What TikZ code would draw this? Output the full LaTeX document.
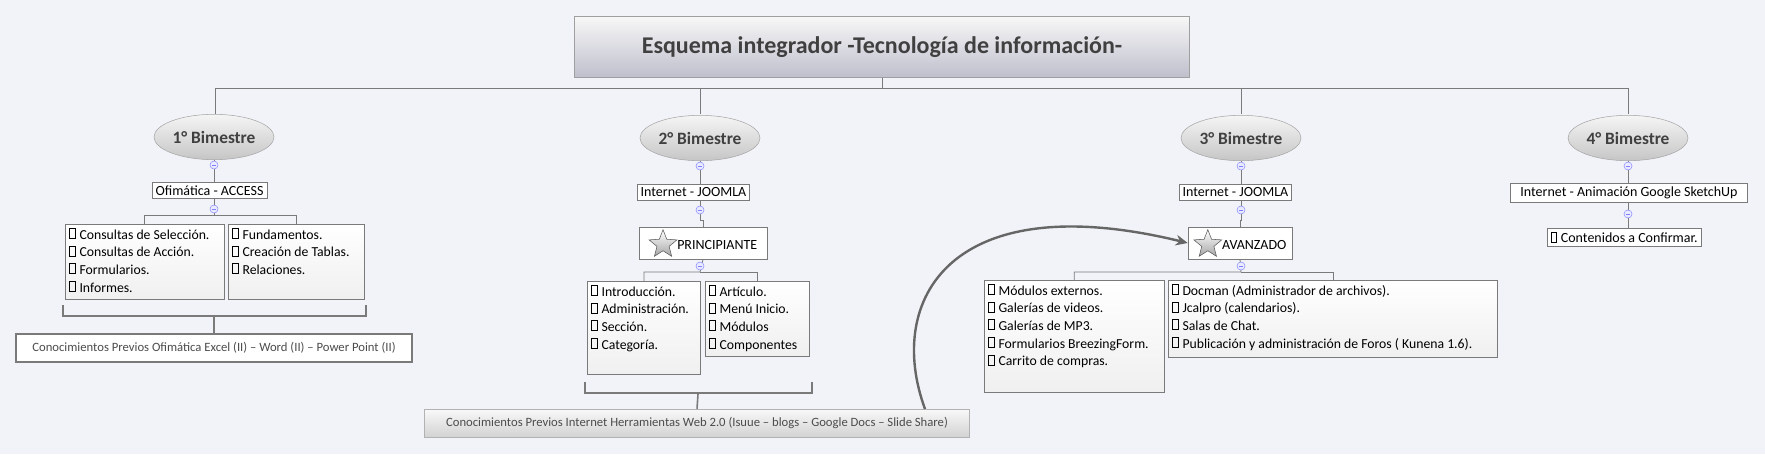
\documentclass[tikz,border=0pt]{standalone}
\usepackage{fontspec}
\setmainfont{Carlito}
\usetikzlibrary{shapes.geometric,arrows.meta}
\newcommand\bx{\tikz[baseline=-0.5pt]\draw[line width=0.5pt] (0,0) rectangle (4.2pt,7.5pt);\hspace{3pt}}
\definecolor{bg}{HTML}{F1F3F8}
\definecolor{ln}{HTML}{7A7A7A}
\tikzset{
 px/.style={x=0.75pt,y=-0.75pt},
 lin/.style={draw=ln,line width=0.6pt},
 sbox/.style={draw=ln,fill=white,inner sep=2.5pt,font=\fontsize{10.5}{12}\selectfont,anchor=north west},
 ibox/.style={draw=ln,top color=white,bottom color=gray!12,inner sep=0pt,anchor=north west},
 itxt/.style={anchor=north west,align=left,inner sep=3pt,font=\fontsize{10.3}{13.2}\selectfont},
 bim/.style={ellipse,draw=gray!70,top color=gray!8,bottom color=gray!45,minimum width=90pt,minimum height=34pt,font=\bfseries\fontsize{13}{14}\selectfont,text=black!75,inner sep=0pt},
 col/.style={circle,draw=blue!45,fill=blue!8,minimum size=6pt,inner sep=0pt,path picture={\draw[blue!50,line width=0.4pt] ([xshift=-1.5pt]path picture bounding box.center) -- ([xshift=1.5pt]path picture bounding box.center);}},
}
\newcommand\starx{\tikz[baseline=-3.5pt]\node[star,star points=5,star point ratio=2.3,draw=gray!70!black,top color=white,bottom color=gray!70,minimum size=22pt,inner sep=0pt]{};}
\begin{document}
\begin{tikzpicture}[px]
\useasboundingbox[fill=bg] (0,0) rectangle (1765,454);
% title
\node[draw=gray!75,top color=gray!6,bottom color=blue!12!gray!45,minimum width=461pt,minimum height=46pt,font=\bfseries\fontsize{18}{20}\selectfont,text=black!75] (t) at (882,47) {Esquema integrador -Tecnología de información-};
\coordinate (h) at (882,88);
\draw[lin] (t.south) -- (h);
\draw[lin] (215,114) |- (1628,88) -- (1628,114);
\draw[lin] (700,88) -- (700,114) (1241,88) -- (1241,114);
% ellipses
\node[bim] (b1) at (214,137) {1° Bimestre};
\node[bim] (b2) at (700,138) {2° Bimestre};
\node[bim] (b3) at (1241,138) {3° Bimestre};
\node[bim] (b4) at (1628,138) {4° Bimestre};
% ---- 1
\node[sbox] (o1) at (152,182) {Ofimática - ACCESS};
\draw[lin] (b1) -- (o1.north-|b1);
\node[col] at (214,165) {};
\node[ibox,minimum width=119pt,minimum height=56pt] (l1) at (65,224) {};
\node[itxt] at (l1.north west) {\bx Consultas de Selección.\\\bx Consultas de Acción.\\\bx Formularios.\\\bx Informes.};
\node[ibox,minimum width=102pt,minimum height=56pt] (r1) at (228,224) {};
\node[itxt] at (r1.north west) {\bx Fundamentos.\\\bx Creación de Tablas.\\\bx Relaciones.};
\draw[lin] (o1.south-|b1) -- (214,215) -| (l1.north);
\draw[lin] (214,215) -| (r1.north);
\node[col] at (214,209) {};
\draw[ln,line width=1.2pt] (63,305) -- (63,316) -- (366,316) -- (366,305);
\node[draw=ln,line width=1pt,fill=white,minimum width=297pt,minimum height=21pt,font=\fontsize{9.5}{10}\selectfont,text=black!70] (k1) at (214,348) {Conocimientos Previos Ofimática Excel (II) – Word (II) – Power Point (II)};
\draw[ln,line width=1.2pt] (214,317) -- (k1.north);
% ---- 2
\node[sbox] (j2) at (637,184) {Internet - JOOMLA};
\draw[lin] (b2) -- (j2.north-|b2);
\node[col] at (700,166) {};
\node[draw=ln,fill=white,minimum width=96pt,minimum height=24pt,inner sep=1pt,font=\fontsize{10.5}{12}\selectfont] (p) at (703,243) {\starx PRINCIPIANTE};
\draw[lin] (j2.south-|b2) -- (700,220) -| (p.north);
\node[col] at (700,210) {};
\node[ibox,minimum width=85pt,minimum height=70pt] (l2) at (587,281) {};
\node[itxt] at (l2.north west) {\bx Introducción.\\\bx Administración.\\\bx Sección.\\\bx Categoría.};
\node[ibox,minimum width=78pt,minimum height=56pt] (r2) at (705,281) {};
\node[itxt] at (r2.north west) {\bx Artículo.\\\bx Menú Inicio.\\\bx Módulos\\\bx Componentes};
\draw[lin] (p.south) -- (700,272) -| (l2.north);
\draw[lin] (700,272) -| (r2.north);
\node[col] at (700,266) {};
\draw[ln,line width=1.2pt] (585,382) -- (585,393) -- (812,393) -- (812,382);
\node[draw=gray!60,top color=gray!5,bottom color=gray!35,minimum width=409pt,minimum height=21pt,font=\fontsize{9.5}{10}\selectfont,text=black!70] (k2) at (697,423) {Conocimientos Previos Internet Herramientas Web 2.0 (Isuue – blogs – Google Docs – Slide Share)};
\draw[ln,line width=1.2pt] (698,394) -- (k2.north);
% ---- 3
\node[sbox] (j3) at (1179,184) {Internet - JOOMLA};
\draw[lin] (b3) -- (j3.north-|b3);
\node[col] at (1241,166) {};
\node[draw=ln,fill=white,minimum width=78pt,minimum height=24pt,inner sep=1pt,font=\fontsize{10.5}{12}\selectfont] (a) at (1240,243) {\starx AVANZADO};
\draw[lin] (j3.south-|b3) -- (1241,220) -| (a.north);
\node[col] at (1241,210) {};
\node[ibox,minimum width=135pt,minimum height=84pt] (l3) at (984,280) {};
\node[itxt] at (l3.north west) {\bx Módulos externos.\\\bx Galerías de videos.\\\bx Galerías de MP3.\\\bx Formularios BreezingForm.\\\bx Carrito de compras.};
\node[ibox,minimum width=247pt,minimum height=58pt] (r3) at (1168,280) {};
\node[itxt] at (r3.north west) {\bx Docman (Administrador de archivos).\\\bx Jcalpro (calendarios).\\\bx Salas de Chat.\\\bx Publicación y administración de Foros ( Kunena 1.6).};
\draw[lin] (a.south) -- (1241,272) -| (l3.north);
\draw[lin] (1241,272) -| (r3.north);
\node[col] at (1241,266) {};
% ---- 4
\node[sbox,minimum width=178pt] (j4) at (1510,183) {Internet - Animación Google SketchUp};
\draw[lin] (b4) -- (j4.north-|b4);
\node[col] at (1628,166) {};
\node[sbox] (c4) at (1547,228) {\bx Contenidos a Confirmar.};
\draw[lin] (j4.south-|b4) -- (c4.north-|b4);
\node[col] at (1628,214) {};
% curved arrow
\draw[draw=gray!80!black,line width=1.8pt,-{Stealth[length=9pt,width=8pt]}] (925,409) .. controls (885,300) and (950,185) .. (a.west);
\end{tikzpicture}
\end{document}
